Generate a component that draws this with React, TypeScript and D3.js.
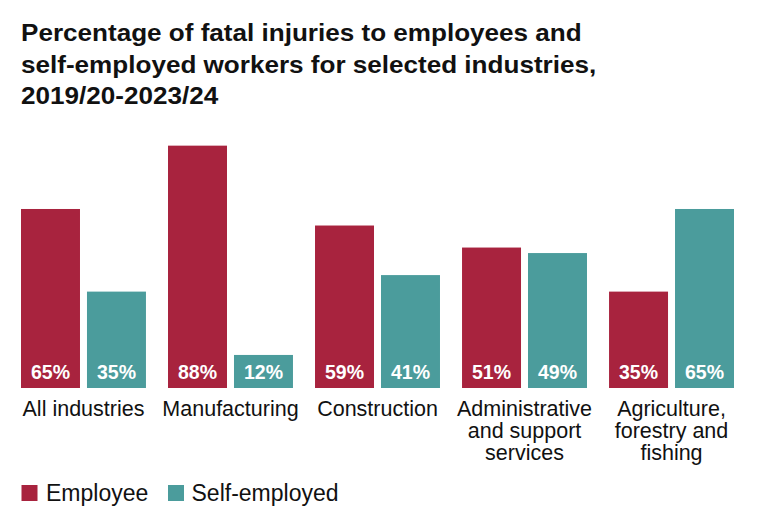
import React from 'react'
import * as d3 from 'd3'

// industries (each label split into lines as in the original)
const industries = ['All industries', 'Manufacturing', 'Construction', 'Administrative and support services', 'Agriculture, forestry and fishing']
const industryLines = [
    ['All industries'],
    ['Manufacturing'],
    ['Construction'],
    ['Administrative', 'and support', 'services'],
    ['Agriculture,', 'forestry and', 'fishing']
]

const seriesNames = ['Employee', 'Self-employed']
const employeeValues = [65, 88, 59, 51, 35]
const selfEmployedValues = [35, 12, 41, 49, 65]

const titleLines = [
    'Percentage of fatal injuries to employees and',
    'self-employed workers for selected industries,',
    '2019/20-2023/24'
]

const colors = ['#a8233e', '#4b9c9c']
const fontFamily = '"Liberation Sans", Arial, Helvetica, sans-serif'

const width = 768
const height = 527

const App = () => {
    const x0 = d3.scaleBand<string>()
        .domain(industries)
        .range([21, 734])
        .paddingInner(0.15)
        .paddingOuter(0)

    const x1 = d3.scaleBand<string>()
        .domain(seriesNames)
        .range([0, x0.bandwidth()])
        .paddingInner(0.106)

    const y = d3.scaleLinear()
        .domain([0, 100])
        .range([388, 112.6])

    const series = [employeeValues, selfEmployedValues]

    return (
        <svg width={width} height={height} style={{ display: 'block', position: 'absolute', left: 0, top: 0 }}>
            <rect width={width} height={height} fill='#ffffff' />
            {/* the original title face is wider than Arial, so stretch it a little */}
            <g fontFamily={fontFamily} fontWeight='bold' fontSize={23.5} fill='#111' transform='translate(21, 0) scale(1.11, 1)'>
                {titleLines.map((line, i) => (
                    <text key={i} x={0} y={41 + i * 31.7}>{line}</text>
                ))}
            </g>
            {industries.map((industry, i) => (
                <g key={industry} transform={`translate(${x0(industry)}, 0)`}>
                    {seriesNames.map((name, s) => {
                        const v = series[s][i]
                        const bx = x1(name)
                        return (
                            <g key={name}>
                                <rect
                                    x={bx}
                                    y={y(v)}
                                    width={x1.bandwidth()}
                                    height={y(0) - y(v)}
                                    fill={colors[s]}
                                />
                                <text
                                    x={bx + x1.bandwidth() / 2}
                                    y={378.5}
                                    textAnchor='middle'
                                    fill='#ffffff'
                                    fontFamily={fontFamily}
                                    fontWeight='bold'
                                    fontSize={19.5}
                                >
                                    {v}%
                                </text>
                            </g>
                        )
                    })}
                    {industryLines[i].map((line, j) => (
                        <text
                            key={j}
                            x={x0.bandwidth() / 2}
                            y={416 + j * 22}
                            textAnchor='middle'
                            fontFamily={fontFamily}
                            fontSize={21.5}
                            fill='#111'
                        >
                            {line}
                        </text>
                    ))}
                </g>
            ))}
            <g fontFamily={fontFamily} fontSize={23} fill='#111'>
                <rect x={21.5} y={485} width={16} height={16} fill={colors[0]} />
                <text x={46} y={501}>{seriesNames[0]}</text>
                <rect x={168} y={485} width={16} height={16} fill={colors[1]} />
                <text x={191.5} y={501}>{seriesNames[1]}</text>
            </g>
        </svg>
    )
}

export default App
